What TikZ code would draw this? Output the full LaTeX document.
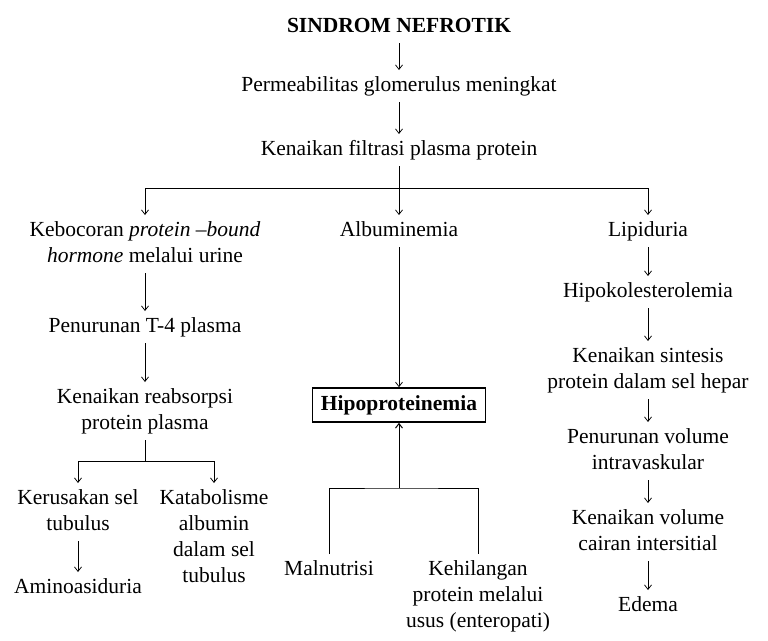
\documentclass[tikz,border=0pt]{standalone}
\usepackage{fontspec}
\setmainfont{Liberation Serif}
\usetikzlibrary{arrows.meta}
\begin{document}
\begin{tikzpicture}[x=1pt,y=-1pt,
  txt/.style={font=\fontsize{21.5}{26}\selectfont, align=center, inner xsep=4pt, inner ysep=3pt, outer sep=0pt},
  boxnode/.style={draw, line width=1.6pt, font=\fontsize{21.5}{26}\selectfont\bfseries, minimum width=173pt, minimum height=34pt, inner sep=0pt},
  link/.style={line width=0.75pt, black},
  arr/.style={link, -{Straight Barb[length=4.5pt,width=7pt]}}
]
\useasboundingbox (0,0) rectangle (768,640);
% nodes
\node[txt, font=\fontsize{21.5}{26}\selectfont\bfseries] (sind) at (399,27) {\strut SINDROM NEFROTIK};
\node[txt] (perm) at (399,86) {\strut Permeabilitas glomerulus meningkat};
\node[txt] (filt) at (399,150) {\strut Kenaikan filtrasi plasma protein};
\node[txt] (keb) at (145,244) {\strut Kebocoran \textit{protein –bound}\\\strut\textit{hormone} melalui urine};
\node[txt] (alb) at (399,231) {\strut Albuminemia};
\node[txt] (lip) at (648,231) {\strut Lipiduria};
\node[txt] (pen) at (145,327) {\strut Penurunan T-4 plasma};
\node[txt] (reab) at (145,411) {\strut Kenaikan reabsorpsi\\\strut protein plasma};
\node[txt] (ker) at (78,512) {\strut Kerusakan sel\\\strut tubulus};
\node[txt] (kat) at (214,538) {\strut Katabolisme\\\strut albumin\\\strut dalam sel\\\strut tubulus};
\node[txt] (amino) at (78,588) {\strut Aminoasiduria};
\node[boxnode] (hipo) at (399,405) {Hipoproteinemia};
\node[txt] (mal) at (329,570) {\strut Malnutrisi};
\node[txt] (keh) at (478,596) {\strut Kehilangan\\\strut protein melalui\\\strut usus (enteropati)};
\node[txt] (hk) at (648,292) {\strut Hipokolesterolemia};
\node[txt] (sint) at (648,370) {\strut Kenaikan sintesis\\\strut protein dalam sel hepar};
\node[txt] (pvol) at (648,451) {\strut Penurunan volume\\\strut intravaskular};
\node[txt] (kvol) at (648,532) {\strut Kenaikan volume\\\strut cairan intersitial};
\node[txt] (edema) at (648,606) {\strut Edema};
% junctions
\coordinate (j1) at (399,188);
\coordinate (j2) at (399,488);
\coordinate (j3) at (145,461);
% connectors
\draw[arr] (sind) -- (perm);
\draw[arr] (perm) -- (filt);
\draw[link, line width=1pt] (filt) -- (j1);
\draw[arr] (j1) -| (keb);
\draw[arr] (j1) -- (alb);
\draw[arr] (j1) -| (lip);
\draw[arr] (alb) -- (hipo);
\draw[arr] (keb) -- (pen);
\draw[arr] (pen) -- (reab);
\draw[link] (reab) -- (j3);
\draw[arr] (j3) -| (ker);
\draw[arr] (j3) -| (kat);
\draw[arr] (ker) -- (amino);
\draw[link, line width=0.9pt] (mal) |- (j2) -| (keh);
\draw[arr, line width=1pt] (j2) -- (hipo);
\draw[arr] (lip) -- (hk);
\draw[arr] (hk) -- (sint);
\draw[arr] (sint) -- (pvol);
\draw[arr] (pvol) -- (kvol);
\draw[arr] (kvol) -- (edema);
\end{tikzpicture}
\end{document}
